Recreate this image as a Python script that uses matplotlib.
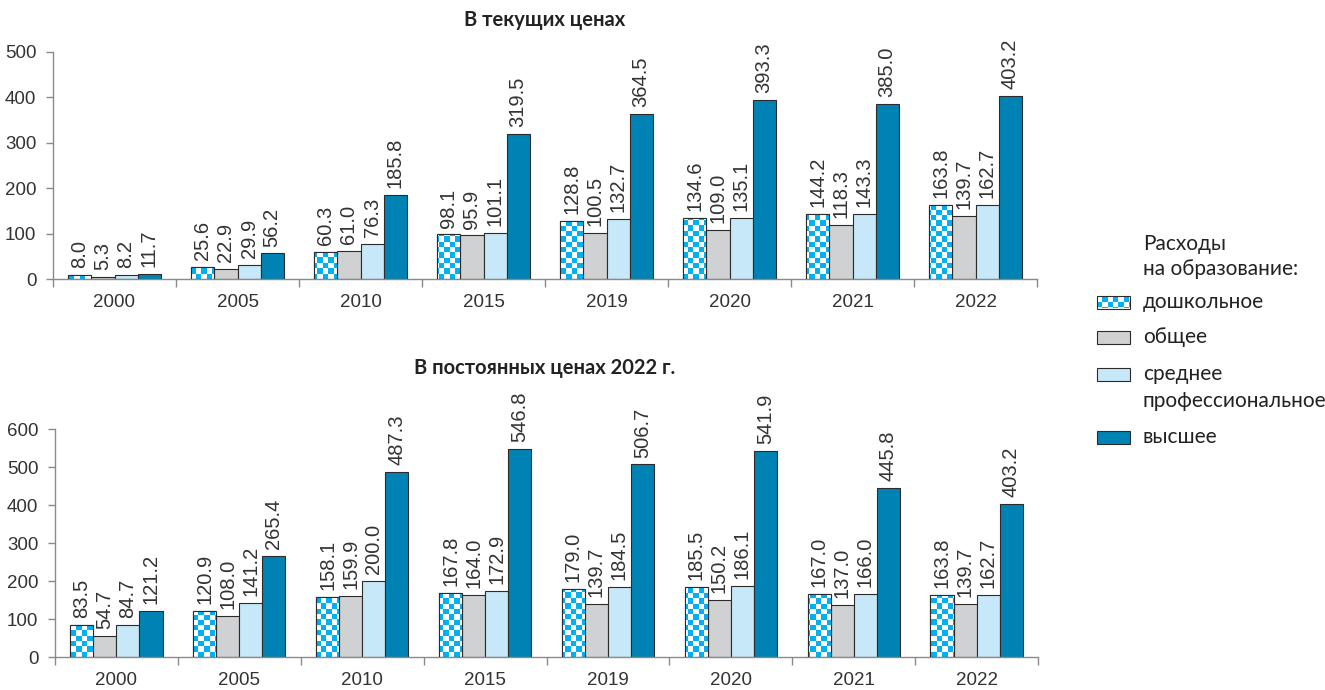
import numpy as np
import matplotlib
matplotlib.use('Agg')
import matplotlib.pyplot as plt
from matplotlib.colors import ListedColormap
from matplotlib.patches import Rectangle

# данные
years = ['2000', '2005', '2010', '2015', '2019', '2020', '2021', '2022']
series = ['дошкольное', 'общее', 'среднее\nпрофессиональное', 'высшее']

cur_preschool = [8.0, 25.6, 60.3, 98.1, 128.8, 134.6, 144.2, 163.8]
cur_general = [5.3, 22.9, 61.0, 95.9, 100.5, 109.0, 118.3, 139.7]
cur_vocational = [8.2, 29.9, 76.3, 101.1, 132.7, 135.1, 143.3, 162.7]
cur_higher = [11.7, 56.2, 185.8, 319.5, 364.5, 393.3, 385.0, 403.2]

const_preschool = [83.5, 120.9, 158.1, 167.8, 179.0, 185.5, 167.0, 163.8]
const_general = [54.7, 108.0, 159.9, 164.0, 139.7, 150.2, 137.0, 139.7]
const_vocational = [84.7, 141.2, 200.0, 172.9, 184.5, 186.1, 166.0, 162.7]
const_higher = [121.2, 265.4, 487.3, 546.8, 506.7, 541.9, 445.8, 403.2]

colors = ['white', '#d0d1d3', '#c6e8f8', '#0083b4']
checker_blue = '#00b0f0'
edge = '#2b2b2b'
axcol = '#8a8a8a'
txtcol = '#333333'
num_font = ['Liberation Sans Narrow', 'Liberation Sans', 'DejaVu Sans']
txt_font = ['Lato', 'DejaVu Sans']

W, H = 1325, 690
fig = plt.figure(figsize=(W / 100, H / 100), dpi=100)


def checker(ax, patch, cell=5.3):
    # шахматная заливка, обрезанная по столбику
    bb = ax.get_position()
    nx = int(round(bb.width * W / cell))
    ny = int(round(bb.height * H / cell))
    grid = np.add.outer(np.arange(ny), np.arange(nx)) % 2
    cmap = ListedColormap(['white', checker_blue])
    im = ax.imshow(grid, cmap=cmap, extent=(0, 1, 0, 1), transform=ax.transAxes,
                   aspect='auto', interpolation='nearest', origin='lower', zorder=2.5)
    im.set_clip_path(patch)


def draw(ax, values, ymax):
    x = np.arange(len(years))
    w = 0.1875
    for i, vals in enumerate(values):
        pos = x + (i - 1.5) * w
        bars = ax.bar(pos, vals, w, color=colors[i], edgecolor=edge, linewidth=0.8, zorder=2)
        if i == 0:
            for b in bars:
                checker(ax, b)
            ax.bar(pos, vals, w, fill=False, edgecolor=edge, linewidth=0.8, zorder=3)
        for p, v in zip(pos, vals):
            ax.annotate(f'{v:.1f}', (p, v), xytext=(0, 5), textcoords='offset points',
                        rotation=90, ha='center', va='bottom', fontsize=14.5,
                        family=num_font, color=txtcol)
    ax.set_xlim(-0.5, len(years) - 0.5)
    ax.set_ylim(0, ymax)
    ax.set_yticks(np.arange(0, ymax + 1, 100))
    ax.set_xticks(x)
    ax.set_xticklabels(years)
    ax.set_xticks(np.arange(-0.5, len(years)), minor=True)
    ax.tick_params(axis='x', which='major', length=0, pad=11, labelsize=13.5, labelcolor=txtcol)
    ax.tick_params(axis='x', which='minor', length=6, color=axcol, width=1)
    ax.tick_params(axis='y', length=5, color=axcol, width=1, labelsize=13.5, labelcolor=txtcol, pad=7)
    for lab in ax.get_xticklabels() + ax.get_yticklabels():
        lab.set_family(num_font)
    for s in ['top', 'right']:
        ax.spines[s].set_visible(False)
    for s in ['left', 'bottom']:
        ax.spines[s].set_color(axcol)
        ax.spines[s].set_linewidth(1)


ax1 = fig.add_axes([53 / W, 1 - 279 / H, (1037 - 53) / W, (279 - 52) / H])
draw(ax1, [cur_preschool, cur_general, cur_vocational, cur_higher], 500)

ax2 = fig.add_axes([55 / W, 1 - 657 / H, (1038 - 55) / W, (657 - 429) / H])
draw(ax2, [const_preschool, const_general, const_vocational, const_higher], 600)

fig.text(545 / W, 1 - 20 / H, 'В текущих ценах', ha='center', va='center',
         fontsize=14.5, fontweight='bold', family=txt_font, color='#222222')
fig.text(545 / W, 1 - 368 / H, 'В постоянных ценах 2022 г.', ha='center', va='center',
         fontsize=14.5, fontweight='bold', family=txt_font, color='#222222')

# легенда
lax = fig.add_axes([0, 0, 1, 1], zorder=5)
lax.set_xlim(0, W)
lax.set_ylim(H, 0)
lax.axis('off')
lax.text(1143, 256.5, 'Расходы\nна образование:', ha='left', va='center',
         fontsize=15, family=txt_font, color='#222222', linespacing=1.35)
leg_y = [302, 337, 374, 437]
for i, (name, yy) in enumerate(zip(series, leg_y)):
    r = Rectangle((1097, yy - 6.5), 33, 13, facecolor=colors[i], edgecolor=edge if i else 'none',
                  linewidth=0.8, zorder=2)
    lax.add_patch(r)
    if i == 0:
        checker(lax, r)
        lax.add_patch(Rectangle((1097, yy - 6.5), 33, 13, fill=False, edgecolor=edge,
                                linewidth=0.8, zorder=3))
    lax.text(1143, yy, name.split('\n')[0], ha='left', va='center',
             fontsize=15, family=txt_font, color='#222222')
    if '\n' in name:
        lax.text(1143, yy + 27, name.split('\n')[1], ha='left', va='center',
                 fontsize=15, family=txt_font, color='#222222')
lax.set_xlim(0, W)
lax.set_ylim(H, 0)

fig.savefig('out.png', dpi=100)
